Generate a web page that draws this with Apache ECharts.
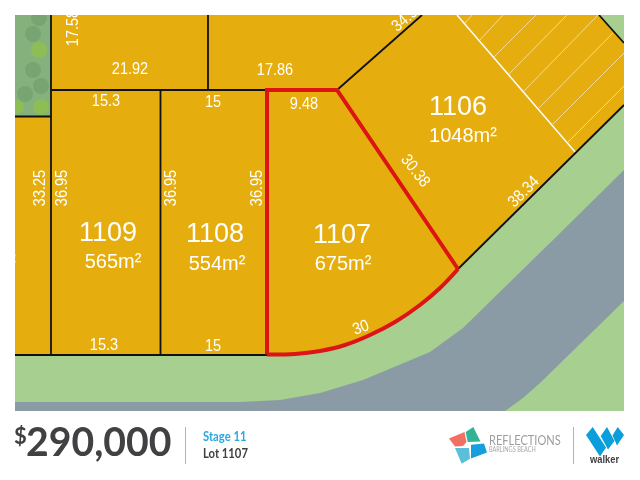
<!DOCTYPE html>
<html>
<head>
<meta charset="utf-8">
<title>Lot 1107</title>
<style>
  html, body { margin: 0; padding: 0; background: #fff; }
  #main { width: 640px; height: 480px; }
</style>
<script src="https://cdn.jsdelivr.net/npm/echarts@6/dist/echarts.min.js"></script>
</head>
<body>
<div id="main"></div>
<script>
// lots
var lotNumbers = ["1109", "1108", "1107", "1106", "1110"];
var lotAreas = ["565m²", "554m²", "675m²", "1048m²", "m²"];
var price = "290,000";
var stageText = "Stage 11";
var lotText = "Lot 1107";

// boundary lengths [text, x, y, rotation in degrees]
var dimensions = [
  ["17.58", 73, 28, 90], ["21.92", 130, 69, 0], ["17.86", 275, 70, 0], ["18.66", 314, 8, 0],
  ["34.56", 408, 17, 41], ["15.3", 106, 101, 0], ["15", 213, 102, 0], ["9.48", 304, 104, 0],
  ["33.25", 40, 188, 90], ["36.95", 62, 188, 90], ["36.95", 171, 188, 90], ["36.95", 257, 188, 90],
  ["30.38", 415, 171, -52], ["38.34", 524, 192, 45], ["30", 361, 328, 20],
  ["15.3", 104, 345, 0], ["15", 213, 346, 0]
];

// plan outlines
var curve = [[458, 269], [440, 288], [420, 305], [395, 322], [370, 335], [345, 345], [320, 351], [295, 354], [267, 354.5]];
var lotsOutline = [[15, 15], [599, 15], [624, 43], [624, 105], [458, 269]].concat(curve.slice(1), [[15, 355]]);
var selectedEdges = [[267, 354.5], [267, 90], [337, 90], [458, 269]];
var parkStrip = [[15, 15], [51, 15], [51, 116], [15, 116]];
var cornerVerge = [[599, 15], [624, 15], [624, 43]];
var roadway = [[15, 402], [240, 402], [280, 400], [320, 393], [363, 380], [430, 352], [463, 328], [553, 240], [624, 170], [624, 301], [540, 383], [523, 398], [505, 411], [15, 411]];

var blackLines = [
  [[51, 15], [51, 355]], [[15, 116.5], [51, 116.5]], [[51, 90], [267, 90]], [[160.5, 90], [160.5, 355]],
  [[208, 15], [208, 90]], [[15, 355], [267, 355]], [[337, 90], [422, 15]], [[458, 269], [624, 105]], [[599, 15], [624, 43]]
];
var rearBoundary = [[457, 15], [576, 153]];
var thinLines = [
  [[465, 23], [472, 15]], [[479, 41], [503, 15]], [[494, 57], [536, 15]], [[509, 74], [567, 15]],
  [[524, 91], [598, 15]], [[539, 108], [613, 33]], [[553, 124], [624, 53]], [[568, 142], [624, 86]]
];

// trees in the park strip [x, y, radius, light]
var trees = [
  [39, 18, 8, 0], [33, 34, 8, 0], [39, 50, 8, 1], [33, 70, 8, 0],
  [41, 86, 8, 0], [25, 94, 8, 0], [41, 107, 8, 1], [17, 107, 7, 1]
];

// logos
var markRed = [[449, 438.5], [464.5, 432], [466.5, 442], [463, 446], [455, 446.5]];
var markGreen = [[465.7, 432], [473.3, 427], [480.5, 441.5], [467.7, 442]];
var markBlue = [[471, 444.7], [484, 443.5], [487, 452.5], [471, 458.5]];
var markCyan = [[455, 448], [469, 448], [470, 458.7], [461.7, 463.7]];
var walkerLeft = [[586, 435], [592.7, 427], [606, 447.5], [600, 456.5]];
var walkerMid = [[600.7, 436], [607, 427], [614.5, 441], [608, 449.5]];
var walkerRight = [[612.5, 435.5], [617.7, 427], [624, 435], [617, 445.5]];

var palette = {
  lot: "#e5ad0e", green: "#a6cf90", road: "#8a9ba6", park: "#85b27c",
  tree: "#77a572", treeLight: "#8cbe55", line: "#111111", red: "#dc1414",
  ink: "#414042", blue: "#29a9e0", rule: "#aab6c0"
};
var labelFont = "Liberation Sans";

var myChart = echarts.init(document.getElementById("main"));

function poly(api, pts, fill) {
  return {
    type: "polygon",
    shape: { points: pts.map(function (p) { return api.coord(p); }) },
    style: { fill: fill }
  };
}
function stroke(api, pts, color, width, smooth) {
  return {
    type: "polyline",
    shape: { points: pts.map(function (p) { return api.coord(p); }), smooth: smooth || 0 },
    style: { stroke: color, lineWidth: width, fill: null, lineJoin: "miter" }
  };
}
function label(api, text, x, y, rot, size, opt) {
  opt = opt || {};
  var p = api.coord([x, y]);
  return {
    type: "text",
    x: p[0],
    y: p[1],
    rotation: rot * Math.PI / 180,
    scaleX: opt.squeeze || 1,
    style: {
      text: text,
      x: 0,
      y: 0,
      fill: opt.fill || "#fff",
      font: (opt.weight || "normal") + " " + size + "px '" + (opt.family || labelFont) + "'",
      textAlign: opt.align || "center",
      textVerticalAlign: "middle"
    }
  };
}

// one custom series per layer, all drawn through the hidden axes
function layer(name, build) {
  return {
    type: "custom",
    name: name,
    coordinateSystem: "cartesian2d",
    silent: true,
    clip: false,
    animation: false,
    data: [[0, 0]],
    renderItem: function (params, api) {
      return { type: "group", children: build(api) };
    }
  };
}

var option = {
  animation: false,
  backgroundColor: "#fff",
  grid: { left: 0, right: 0, top: 0, bottom: 0 },
  xAxis: { type: "value", min: 0, max: 640, show: false },
  yAxis: { type: "value", min: 0, max: 480, inverse: true, show: false },
  series: [
    layer("ground", function (api) {
      var out = [
        poly(api, [[15, 15], [624, 15], [624, 411], [15, 411]], palette.green),
        poly(api, roadway, palette.road),
        poly(api, lotsOutline, palette.lot),
        poly(api, cornerVerge, palette.green),
        poly(api, parkStrip, palette.park)
      ];
      trees.forEach(function (t) {
        var c = api.coord([t[0], t[1]]);
        out.push({
          type: "circle",
          shape: { cx: c[0], cy: c[1], r: t[2] },
          style: { fill: t[3] ? palette.treeLight : palette.tree }
        });
      });
      return out;
    }),
    layer("lines", function (api) {
      var out = [];
      thinLines.forEach(function (l) { out.push(stroke(api, l, "#f6e7bd", 0.8)); });
      out.push(stroke(api, rearBoundary, "#fff", 1.5));
      blackLines.forEach(function (l) { out.push(stroke(api, l, palette.line, 1.8)); });
      out.push(stroke(api, curve, palette.red, 4, 0.4));
      out.push(stroke(api, selectedEdges, palette.red, 4));
      return out;
    }),
    layer("labels", function (api) {
      var narrow = { squeeze: 0.88 };
      var out = dimensions.map(function (d) {
        return label(api, d[0], d[1], d[2], d[3], 16.5, narrow);
      });
      out.push(label(api, lotNumbers[0], 108, 234, 0, 27));
      out.push(label(api, lotAreas[0], 113, 262, 0, 20));
      out.push(label(api, lotNumbers[1], 215, 235, 0, 27));
      out.push(label(api, lotAreas[1], 217, 264, 0, 20));
      out.push(label(api, lotNumbers[2], 342, 236, 0, 27));
      out.push(label(api, lotAreas[2], 343, 264, 0, 20));
      out.push(label(api, lotNumbers[3], 458, 108, 0, 27));
      out.push(label(api, lotAreas[3], 463, 136, 0, 20));
      out.push(label(api, lotNumbers[4], 16, 232, 0, 27, { align: "right" }));
      out.push(label(api, lotAreas[4], 16, 262, 0, 20, { align: "right" }));
      return out;
    }),
    layer("frame", function (api) {
      return [
        poly(api, [[0, 0], [640, 0], [640, 15], [0, 15]], "#fff"),
        poly(api, [[0, 0], [15, 0], [15, 480], [0, 480]], "#fff"),
        poly(api, [[624, 0], [640, 0], [640, 480], [624, 480]], "#fff"),
        poly(api, [[0, 411], [640, 411], [640, 480], [0, 480]], "#fff")
      ];
    }),
    layer("footer", function (api) {
      var lato = { family: "Lato", weight: "bold", fill: palette.ink, align: "left" };
      var latoPrice = { family: "Lato", weight: "bold", fill: palette.ink, align: "left", squeeze: 0.955 };
      var latoBlue = { family: "Lato", weight: "bold", fill: palette.blue, align: "left", squeeze: 0.9 };
      var latoLot = { family: "Lato", weight: "bold", fill: palette.ink, align: "left", squeeze: 0.9 };
      var greyBig = { family: "Lato", fill: "#9c9d9f", align: "left", squeeze: 0.85 };
      var greySmall = { family: "Lato", fill: "#a6a7a9", align: "left", squeeze: 0.8 };
      return [
        label(api, "$", 14, 437, 0, 22, lato),
        label(api, price, 26, 443, 0, 41, latoPrice),
        stroke(api, [[185.5, 427], [185.5, 464]], palette.rule, 1),
        label(api, stageText, 203, 437, 0, 12.5, latoBlue),
        label(api, lotText, 203, 454, 0, 12.5, latoLot),
        poly(api, markRed, "#f26f66"),
        poly(api, markGreen, "#31b496"),
        poly(api, markBlue, "#159fdc"),
        poly(api, markCyan, "#5bbfd9"),
        label(api, "REFLECTIONS", 489, 441, 0, 13, greyBig),
        label(api, "BARLINGS BEACH", 489, 449.5, 0, 7, greySmall),
        stroke(api, [[573.5, 427], [573.5, 464]], palette.rule, 1),
        poly(api, walkerLeft, "#0a9fdc"),
        poly(api, walkerMid, "#0a9fdc"),
        poly(api, walkerRight, "#0a9fdc"),
        label(api, "walker", 604.5, 460, 0, 11, { family: "Liberation Sans", weight: "bold", fill: palette.ink, squeeze: 0.85 })
      ];
    })
  ]
};

myChart.setOption(option);
</script>
</body>
</html>
